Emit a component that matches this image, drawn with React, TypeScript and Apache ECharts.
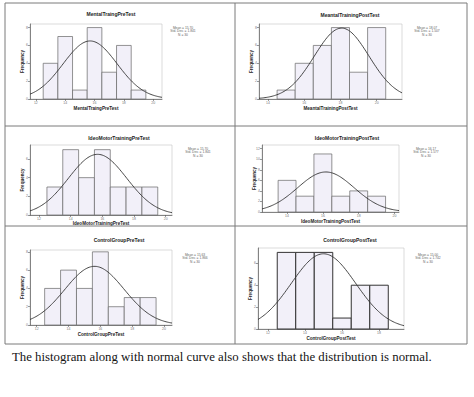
import React, { useEffect, useRef } from "react";
import * as echarts from "echarts";

// ---- data ----
const panelTitles = [
  "MentalTraingPreTest",
  "MeantalTrainingPostTest",
  "IdeoMotorTrainingPreTest",
  "IdeoMotorTrainingPostTest",
  "ControlGroupPreTest",
  "ControlGroupPostTest",
];

const binsMentalPre = [13, 14, 15, 16, 17, 18, 19];
const freqMentalPre = [4, 7, 1, 8, 3, 6, 1];
const binsMentalPost = [15, 16, 17, 18, 19, 20];
const freqMentalPost = [1, 4, 6, 8, 3, 8];
const binsIdeoPre = [13, 14, 15, 16, 17, 18, 19];
const freqIdeoPre = [3, 7, 4, 7, 3, 3, 3];
const binsIdeoPost = [14, 15, 16, 17, 18, 19];
const freqIdeoPost = [6, 3, 11, 3, 4, 3];
const binsControlPre = [13, 14, 15, 16, 17, 18, 19];
const freqControlPre = [4, 6, 4, 8, 2, 3, 3];
const binsControlPost = [13, 14, 15, 16, 17, 18];
const freqControlPost = [7, 7, 7, 1, 4, 4];

const xTicksMentalPre = [12, 14, 16, 18, 20];
const xTicksMentalPost = [14, 16, 18, 20];
const xTicksIdeoPre = [12, 14, 16, 18, 20];
const xTicksIdeoPost = [14, 16, 18, 20];
const xTicksControlPre = [12, 14, 16, 18, 20];
const xTicksControlPost = [12, 14, 16, 18];

const yTicks8 = [0, 2, 4, 6, 8];
const yTicks6 = [0, 2, 4, 6];
const yTicks12 = [0, 2, 4, 6, 8, 10, 12];

const yAxisTitle = "Frequency";
const caption =
  "The histogram along with normal curve also shows that the distribution is normal.";

// ---- layout (not data) ----
const panels = [
  { bins: binsMentalPre, freq: freqMentalPre, xt: xTicksMentalPre, yt: yTicks8, xMin: 11.6, xMax: 20.6, yMax: 8.4,
    grid: { left: 30, top: 24, width: 132, height: 75 }, title: [111, 14], stats: [183, 31], xName: 108.5 },
  { bins: binsMentalPost, freq: freqMentalPost, xt: xTicksMentalPost, yt: yTicks8, xMin: 13.5, xMax: 21.4, yMax: 8.4,
    grid: { left: 259, top: 24, width: 143, height: 75 }, title: [350, 15], stats: [427, 31], xName: 108 },
  { bins: binsIdeoPre, freq: freqIdeoPre, xt: xTicksIdeoPre, yt: yTicks6, xMin: 11.43, xMax: 20.4, yMax: 7.5,
    grid: { left: 30, top: 145, width: 142, height: 70 }, title: [119, 138], stats: [198, 152], xName: 223.5 },
  { bins: binsIdeoPost, freq: freqIdeoPost, xt: xTicksIdeoPost, yt: yTicks12, xMin: 12.6, xMax: 20.25, yMax: 12.7,
    grid: { left: 262, top: 145, width: 137, height: 67 }, title: [347, 138], stats: [426, 152], xName: 221 },
  { bins: binsControlPre, freq: freqControlPre, xt: xTicksControlPre, yt: yTicks8, xMin: 11.58, xMax: 20.5, yMax: 8.2,
    grid: { left: 30, top: 250, width: 142, height: 75 }, title: [119, 240], stats: [195, 258], xName: 334 },
  { bins: binsControlPost, freq: freqControlPost, xt: xTicksControlPost, yt: yTicks6, xMin: 11.46, xMax: 19.35, yMax: 7.4,
    grid: { left: 258, top: 248, width: 146, height: 81 }, title: [350, 240], stats: [428, 258], xName: 338 },
];

function stats(bins: number[], freq: number[]) {
  const n = freq.reduce((a, b) => a + b, 0);
  const mean = bins.reduce((s, b, i) => s + b * freq[i], 0) / n;
  const ss = bins.reduce((s, b, i) => s + freq[i] * (b - mean) ** 2, 0);
  const sd = Math.sqrt(ss / (n - 1));
  return { n, mean, sd };
}

const FONT = "Liberation Sans, Arial, sans-serif";

export default function App() {
  const ref = useRef<HTMLDivElement>(null);

  useEffect(() => {
    if (!ref.current) return;
    const chart = echarts.init(ref.current, undefined, { renderer: "svg" });

    const grids: any[] = [];
    const xAxes: any[] = [];
    const yAxes: any[] = [];
    const series: any[] = [];
    const graphics: any[] = [];

    panels.forEach((p, i) => {
      const st = stats(p.bins, p.freq);
      grids.push({
        ...p.grid,
        show: true,
        borderColor: "#c4c4c4",
        borderWidth: 0.6,
        backgroundColor: "#ffffff",
        containLabel: false,
      });
      xAxes.push({
        type: "value",
        gridIndex: i,
        min: p.xMin,
        max: p.xMax,
        axisLine: { show: true, lineStyle: { color: "#555", width: 0.7 } },
        axisTick: { show: true, length: 2, customValues: p.xt, lineStyle: { color: "#555", width: 0.6 } },
        axisLabel: { customValues: p.xt, fontSize: 3.5, color: "#777", margin: 2, fontFamily: FONT },
        splitLine: { show: false },
      });
      yAxes.push({
        type: "value",
        gridIndex: i,
        min: 0,
        max: p.yMax,
        axisLine: { show: true, lineStyle: { color: "#555", width: 0.7 } },
        axisTick: { show: true, length: 2, customValues: p.yt, lineStyle: { color: "#555", width: 0.6 } },
        axisLabel: { customValues: p.yt, fontSize: 3.5, color: "#777", margin: 2, fontFamily: FONT },
        splitLine: { show: false },
      });
      series.push({
        type: "custom",
        xAxisIndex: i,
        yAxisIndex: i,
        encode: { x: 0, y: 1 },
        data: p.bins.map((b, k) => [b, p.freq[k]]),
        renderItem: (params: any, api: any) => {
          const x = api.value(0);
          const y = api.value(1);
          const p0 = api.coord([x - 0.5, 0]);
          const p1 = api.coord([x + 0.5, y]);
          return {
            type: "rect",
            shape: { x: p0[0], y: p1[1], width: p1[0] - p0[0], height: p0[1] - p1[1] },
            style: { fill: "#f2f0f9", stroke: i === 5 ? "#333" : "#666", lineWidth: i === 5 ? 1 : 0.7 },
          };
        },
        z: 2,
      });
      // fitted normal curve from the histogram's mean / sd
      const pts: number[][] = [];
      const steps = 120;
      for (let k = 0; k <= steps; k++) {
        const x = p.xMin + ((p.xMax - p.xMin) * k) / steps;
        const y =
          (st.n / (st.sd * Math.sqrt(2 * Math.PI))) *
          Math.exp(-((x - st.mean) ** 2) / (2 * st.sd * st.sd));
        pts.push([x, y]);
      }
      series.push({
        type: "line",
        xAxisIndex: i,
        yAxisIndex: i,
        data: pts,
        showSymbol: false,
        symbol: "none",
        lineStyle: { color: "#333", width: 0.9 },
        z: 3,
      });
      graphics.push({
        type: "text",
        x: p.title[0],
        y: p.title[1],
        style: {
          text: panelTitles[i],
          fontSize: 5,
          fontWeight: "bold",
          fill: "#222",
          align: "center",
          verticalAlign: "middle",
          fontFamily: FONT,
        },
      });
      // x-axis title
      graphics.push({
        type: "text",
        x: p.grid.left + p.grid.width / 2,
        y: p.xName,
        style: {
          text: panelTitles[i],
          fontSize: 4.6,
          fontWeight: "bold",
          fill: "#222",
          align: "center",
          verticalAlign: "middle",
          fontFamily: FONT,
        },
      });
      // y-axis title
      graphics.push({
        type: "text",
        x: p.grid.left - 8,
        y: p.grid.top + p.grid.height / 2,
        rotation: Math.PI / 2,
        style: {
          text: yAxisTitle,
          fontSize: 4.5,
          fontWeight: "bold",
          fill: "#222",
          align: "center",
          verticalAlign: "middle",
          fontFamily: FONT,
        },
      });
      graphics.push({
        type: "text",
        x: p.stats[0],
        y: p.stats[1],
        style: {
          text: `Mean = ${st.mean.toFixed(2)}\nStd. Dev. = ${st.sd.toFixed(3)}\nN = ${st.n}`,
          fontSize: 3.3,
          lineHeight: 3.4,
          fill: "#666",
          align: "center",
          verticalAlign: "middle",
          fontFamily: FONT,
        },
      });
    });

    // table frame
    const lineStyle = { stroke: "#7a7a7a", lineWidth: 1 };
    const frame = [
      [5, 3, 467, 3],
      [5, 3, 5, 344],
      [467, 3, 467, 344],
      [5, 344, 467, 344],
      [235, 3, 235, 344],
      [5, 126, 467, 126],
      [5, 226, 467, 226],
    ];
    frame.forEach((f) => {
      graphics.push({
        type: "line",
        shape: { x1: f[0], y1: f[1], x2: f[2], y2: f[3] },
        style: lineStyle,
        silent: true,
      });
    });
    graphics.push({
      type: "text",
      x: 12,
      y: 357,
      style: {
        text: caption,
        fontSize: 12.8,
        fill: "#151515",
        fontFamily: "Liberation Serif, Times New Roman, serif",
        verticalAlign: "middle",
        align: "left",
      },
    });

    chart.setOption({
      animation: false,
      backgroundColor: "#ffffff",
      textStyle: { fontFamily: FONT },
      grid: grids,
      xAxis: xAxes,
      yAxis: yAxes,
      series,
      graphic: graphics,
    });

    return () => chart.dispose();
  }, []);

  return (
    <div
      ref={ref}
      style={{ position: "absolute", left: 0, top: 0, width: 474, height: 397, background: "#fff" }}
    />
  );
}
